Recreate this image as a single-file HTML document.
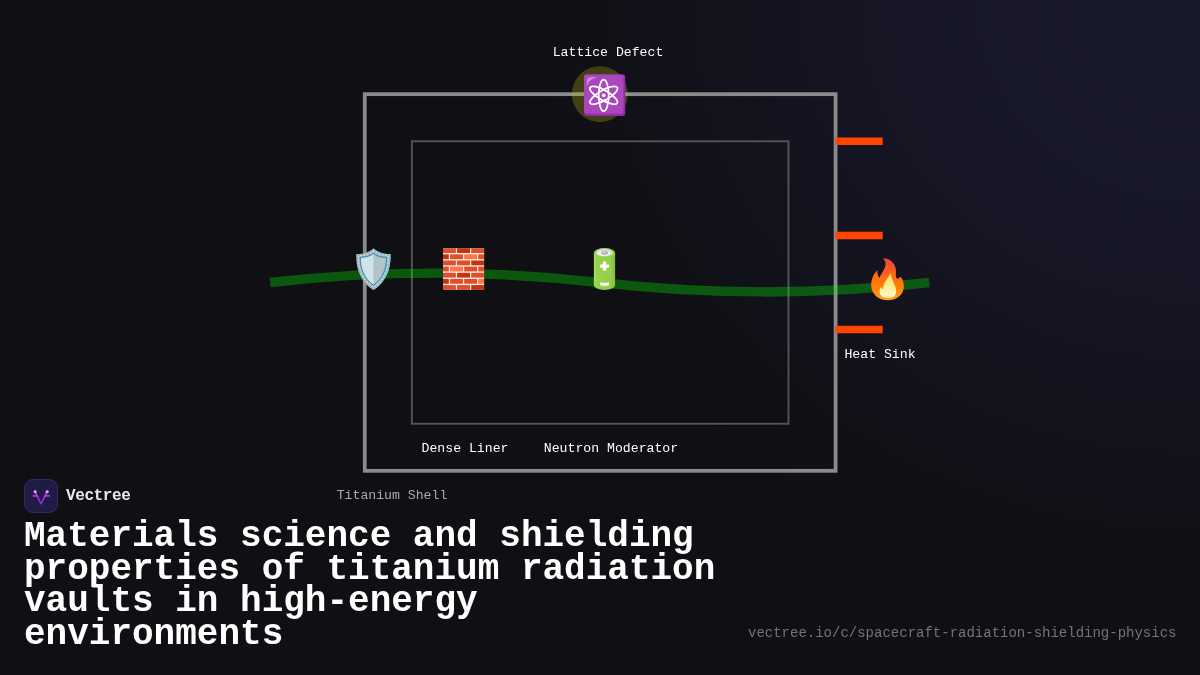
<!DOCTYPE html>
<html>
<head>
<meta charset="utf-8">
<style>
*{margin:0;padding:0;box-sizing:border-box}
html,body{width:1200px;height:675px;overflow:hidden;background:#0f0f14}
body{position:relative;font-family:"Liberation Mono",monospace;color:#fff}
#bg{position:absolute;left:0;top:0;width:1200px;height:675px;
 background:
 radial-gradient(ellipse 694px 620px at 100% 0%, rgba(99,102,241,.100) 0%, rgba(99,102,241,.095) 30.6%, rgba(99,102,241,.075) 46.8%, rgba(99,102,241,.036) 72.6%, rgba(99,102,241,.013) 85.3%, rgba(99,102,241,.006) 91%, rgba(99,102,241,0) 100%),
 #0f0f14;}
#dia{position:absolute;left:223.33px;top:0;width:753.33px;height:565px;overflow:visible}
.lbl,#brand,#title,#url{will-change:transform}
.lbl{position:absolute;font-size:13.18px;line-height:16px;white-space:pre;color:#fff;transform:translateX(-50%)}
#brand{position:absolute;left:24px;top:479px;height:34px;display:flex;align-items:center}
#logo{width:34px;height:34px}
#bname{margin-left:8px;font-weight:bold;font-size:16px;letter-spacing:-0.4px;color:#e8e8ea}
#title{position:absolute;left:24px;top:520.8px;font-weight:bold;font-size:36px;line-height:32.4px;color:#fff;white-space:pre}
#title div{position:absolute;left:0;height:32.4px;will-change:transform}
#url{position:absolute;right:24px;top:625px;font-size:14px;line-height:16px;color:#737378;white-space:pre}
</style>
</head>
<body>
<div id="bg"></div>
<svg id="dia" viewBox="0 0 800 600">
 <rect x="150.55" y="100" width="500" height="400" fill="none" stroke="#8b8b8b" stroke-width="4"/>
 <rect x="200.55" y="150" width="400" height="300" fill="none" stroke="#555" stroke-width="2"/>
 <line x1="650.5" y1="150" x2="700.6" y2="150" stroke="#ff4500" stroke-width="8"/>
 <line x1="650.5" y1="250" x2="700.6" y2="250" stroke="#ff4500" stroke-width="8"/>
 <line x1="650.5" y1="350" x2="700.6" y2="350" stroke="#ff4500" stroke-width="8"/>
 <path d="M50,300 Q225,280 400,300 T750,300" fill="none" stroke="#00ff00" stroke-opacity="0.3" stroke-width="10"/>
 <circle cx="400.2" cy="100" r="29.7" fill="#bbb40d" fill-opacity="0.285"/>
</svg>

<svg id="ov" width="1200" height="675" viewBox="0 0 1200 675" style="position:absolute;left:0;top:0">
<defs>
 <linearGradient id="gFire" x1="0" y1="0" x2="0" y2="1">
  <stop offset="0" stop-color="#ee4346"/><stop offset=".2" stop-color="#f6522f"/><stop offset=".42" stop-color="#ff6a14"/><stop offset=".7" stop-color="#ff8106"/><stop offset="1" stop-color="#ffa122"/>
 </linearGradient>
 <linearGradient id="gFireIn" x1="0" y1="0" x2="0" y2="1">
  <stop offset="0" stop-color="#ffdf6e"/><stop offset=".55" stop-color="#ffee8f"/><stop offset=".9" stop-color="#fff6c4"/><stop offset="1" stop-color="#ffd37a"/>
 </linearGradient>
 <linearGradient id="gBat" x1="0" y1="0" x2="1" y2="0">
  <stop offset="0" stop-color="#a6dc5c"/><stop offset=".18" stop-color="#97d24c"/><stop offset=".8" stop-color="#92ce49"/><stop offset="1" stop-color="#80bc3f"/>
 </linearGradient>
 <linearGradient id="gLogo" gradientUnits="userSpaceOnUse" x1="0" y1="490" x2="0" y2="505">
  <stop offset="0" stop-color="#d946ef"/><stop offset="1" stop-color="#7c22d6"/>
 </linearGradient>
</defs>

<!-- ATOM -->
<g id="atom">
 <rect x="584.1" y="74.4" width="41.1" height="41.5" rx="2.2" fill="#9528ad"/>
 <rect x="584.1" y="74.4" width="39.4" height="39.4" rx="2.2" fill="#ab47bc"/>
 <path d="M586.9 85.4C586.6 81.5 586.9 78.7 588.5 77.7C590.4 76.8 593.5 76.9 595.9 77.0C596 77.4 595.9 77.7 595.8 78C591.6 78.7 588.5 81 587.7 85.4Z" fill="#d29ae0" opacity=".85"/>
 <g fill="none" stroke="#fff" stroke-width="1.75">
  <ellipse cx="603.7" cy="95.3" rx="5.0" ry="15.7"/>
  <ellipse cx="603.7" cy="95.3" rx="5.0" ry="15.7" transform="rotate(60 603.7 95.3)"/>
  <ellipse cx="603.7" cy="95.3" rx="5.0" ry="15.7" transform="rotate(-60 603.7 95.3)"/>
 </g>
 <circle cx="603.7" cy="95.3" r="1.85" fill="#fff"/>
</g>

<!-- SHIELD -->
<g id="shield">
 <path d="M373.4 248.2C370.5 251.8 362.5 254.3 356.3 254.0C355.6 268.5 360.5 281.5 373.4 290.1C386.3 281.5 391.2 268.5 390.5 254.0C384.3 254.3 376.3 251.8 373.4 248.2Z" fill="#a2b6c1"/>
 <path d="M373.4 248.2C376.3 251.8 384.3 254.3 390.5 254.0C391.2 268.5 386.3 281.5 373.4 290.1Z" fill="#93bdd1"/>
 <path d="M373.4 250.9C370.8 253.6 364.3 255.8 358.4 255.7C358.0 268 362.3 279.8 373.4 287.6C384.5 279.8 388.8 268 388.4 255.7C382.5 255.8 376 253.6 373.4 250.9Z" fill="none" stroke="#e6f0f4" stroke-width="1.2" stroke-linecap="round" stroke-dasharray="0.1 3.3"/>
 <path d="M373.4 253.4C371 255.8 365.5 257.5 360.4 257.3C360 268 363.8 278.5 373.4 285.3C383 278.5 386.8 268 386.4 257.3C381.3 257.5 375.8 255.8 373.4 253.4Z" fill="#cfe4ea"/>
 <path d="M373.4 253.4C375.8 255.8 381.3 257.5 386.4 257.3C386.8 268 383 278.5 373.4 285.3Z" fill="#b4c2c9"/>
 <path d="M373.4 253.4C371 255.8 365.5 257.5 360.4 257.3C360 268 363.8 278.5 373.4 285.3C383 278.5 386.8 268 386.4 257.3C381.3 257.5 375.8 255.8 373.4 253.4Z" fill="none" stroke="#35859c" stroke-width="1.0"/>
</g>

<!-- BRICK -->
<g id="brick">
 <rect x="443" y="248.2" width="41.1" height="41.7" fill="#f4e7df"/>
 <rect x="443.00" y="248.20" width="12.87" height="4.78" fill="#df4f2b"/>
 <rect x="457.12" y="248.20" width="12.87" height="4.78" fill="#c2350f"/>
 <rect x="471.23" y="248.20" width="12.87" height="4.78" fill="#df4f2b"/>
 <rect x="443.00" y="254.35" width="5.81" height="4.78" fill="#c2350f"/>
 <rect x="450.06" y="254.35" width="12.87" height="4.78" fill="#df4f2b"/>
 <rect x="464.18" y="254.35" width="12.87" height="4.78" fill="#ff7344"/>
 <rect x="478.29" y="254.35" width="5.81" height="4.78" fill="#df4f2b"/>
 <rect x="443.00" y="260.50" width="12.87" height="4.78" fill="#df4f2b"/>
 <rect x="457.12" y="260.50" width="12.87" height="4.78" fill="#df4f2b"/>
 <rect x="471.23" y="260.50" width="12.87" height="4.78" fill="#c2350f"/>
 <rect x="443.00" y="266.65" width="5.81" height="4.78" fill="#df4f2b"/>
 <rect x="450.06" y="266.65" width="12.87" height="4.78" fill="#ff7344"/>
 <rect x="464.18" y="266.65" width="12.87" height="4.78" fill="#df4f2b"/>
 <rect x="478.29" y="266.65" width="5.81" height="4.78" fill="#df4f2b"/>
 <rect x="443.00" y="272.80" width="12.87" height="4.78" fill="#df4f2b"/>
 <rect x="457.12" y="272.80" width="12.87" height="4.78" fill="#c2350f"/>
 <rect x="471.23" y="272.80" width="12.87" height="4.78" fill="#df4f2b"/>
 <rect x="443.00" y="278.95" width="5.81" height="4.78" fill="#c2350f"/>
 <rect x="450.06" y="278.95" width="12.87" height="4.78" fill="#df4f2b"/>
 <rect x="464.18" y="278.95" width="12.87" height="4.78" fill="#df4f2b"/>
 <rect x="478.29" y="278.95" width="5.81" height="4.78" fill="#ff7344"/>
 <rect x="443.00" y="285.10" width="12.87" height="4.78" fill="#df4f2b"/>
 <rect x="457.12" y="285.10" width="12.87" height="4.78" fill="#df4f2b"/>
 <rect x="471.23" y="285.10" width="12.87" height="4.78" fill="#c2350f"/>
</g>

<!-- BATTERY -->
<g id="battery">
 <path d="M593.85 252.9L593.85 285A10.63 4.95 0 0 0 615.11 285L615.11 252.9Z" fill="url(#gBat)"/>
 <ellipse cx="604.48" cy="252.9" rx="10.63" ry="4.95" fill="#99d44d"/>
 <ellipse cx="604.4" cy="252.7" rx="8.3" ry="3.6" fill="#dedede"/>
 <ellipse cx="603.6" cy="253.3" rx="6.6" ry="2.6" fill="#efefef"/>
 <ellipse cx="604.6" cy="252.6" rx="3.4" ry="2.1" fill="#a3a3a3"/>
 <ellipse cx="604.6" cy="252.1" rx="2.6" ry="1.3" fill="#cfcfcf"/>
 <rect x="599.9" y="264.5" width="9.3" height="3.3" rx="0.8" fill="#fbfbfb"/>
 <rect x="602.8" y="261.6" width="3.5" height="9.2" rx="0.8" fill="#fbfbfb"/>
 <path d="M600.1 283.0Q600.1 282.2 600.9 282.4Q604.5 283.2 608.2 282.4Q609.0 282.2 609.0 283.0L609.0 284.6Q609.0 285.4 608.2 285.6Q604.5 286.4 600.9 285.6Q600.1 285.4 600.1 284.6Z" fill="#fbfbfb"/>
</g>

<!-- FIRE -->
<g id="fire">
 <path d="M883.0 258.3C889.0 258.0 894.0 262.3 895.6 268.0C896.5 271.5 895.3 275.0 896.2 277.5C897.0 279.3 898.8 279.0 900.6 276.6C902.8 279.5 904.0 283.5 903.8 287.0C903.5 295.0 896.5 300.2 887.8 300.2C879.0 300.2 871.3 294.5 871.2 285.5C871.1 279.0 873.8 273.5 877.5 270.2C877.3 273.0 877.8 276.5 879.6 278.0C880.3 274.5 884.2 270.5 885.4 266.0C886.0 263.3 885.2 260.3 883.0 258.3Z" fill="url(#gFire)"/>
 <path d="M890.6 272.9C891.0 276.5 892.8 280.5 894.4 284.5C896.0 288.0 896.8 291.0 895.8 294.0C894.6 297.0 891.6 298.3 888.0 298.3C883.6 298.3 880.2 296.2 879.7 292.2C879.4 289.8 880.2 288.0 881.3 287.1C881.6 288.3 882.2 289.0 883.2 289.0C883.0 285.0 885.6 281.0 887.6 278.0C889.0 276.0 890.2 274.6 890.6 272.9Z" fill="url(#gFireIn)"/>
</g>

<!-- LOGO -->
<g id="logo2">
 <rect x="24.5" y="479.5" width="33" height="33" rx="8.5" fill="#1e1c45" stroke="#2f2b72" stroke-width="1"/>
 <g fill="none" stroke="url(#gLogo)" stroke-width="1.6" stroke-linecap="round" stroke-linejoin="round">
  <path d="M35.3 492.2L41 503.9L46.9 492.2"/>
  <path d="M33.3 495.9H36.8M45.4 495.9H49.3"/>
 </g>
 <circle cx="35.1" cy="491.7" r="1.6" fill="#d595ef"/>
 <circle cx="47.2" cy="491.7" r="1.6" fill="#d595ef"/>
</g>
</svg>
<div class="lbl" style="left:608px;top:44.8px">Lattice Defect</div>
<div class="lbl" style="left:465px;top:440.8px">Dense Liner</div>
<div class="lbl" style="left:610.7px;top:441px">Neutron Moderator</div>
<div class="lbl" style="left:880.4px;top:346.8px">Heat Sink</div>
<div class="lbl" style="left:391.5px;top:487.8px;color:#aaaaad">Titanium Shell</div>
<div id="brand"><div id="logo"></div><div id="bname">Vectree</div></div>
<div id="title"><div style="top:0">Materials science and shielding</div><div style="top:33px">properties of titanium radiation</div><div style="top:65px">vaults in high-energy</div><div style="top:98px">environments</div></div>
<div id="url">vectree.io/c/spacecraft-radiation-shielding-physics</div>
</body>
</html>
